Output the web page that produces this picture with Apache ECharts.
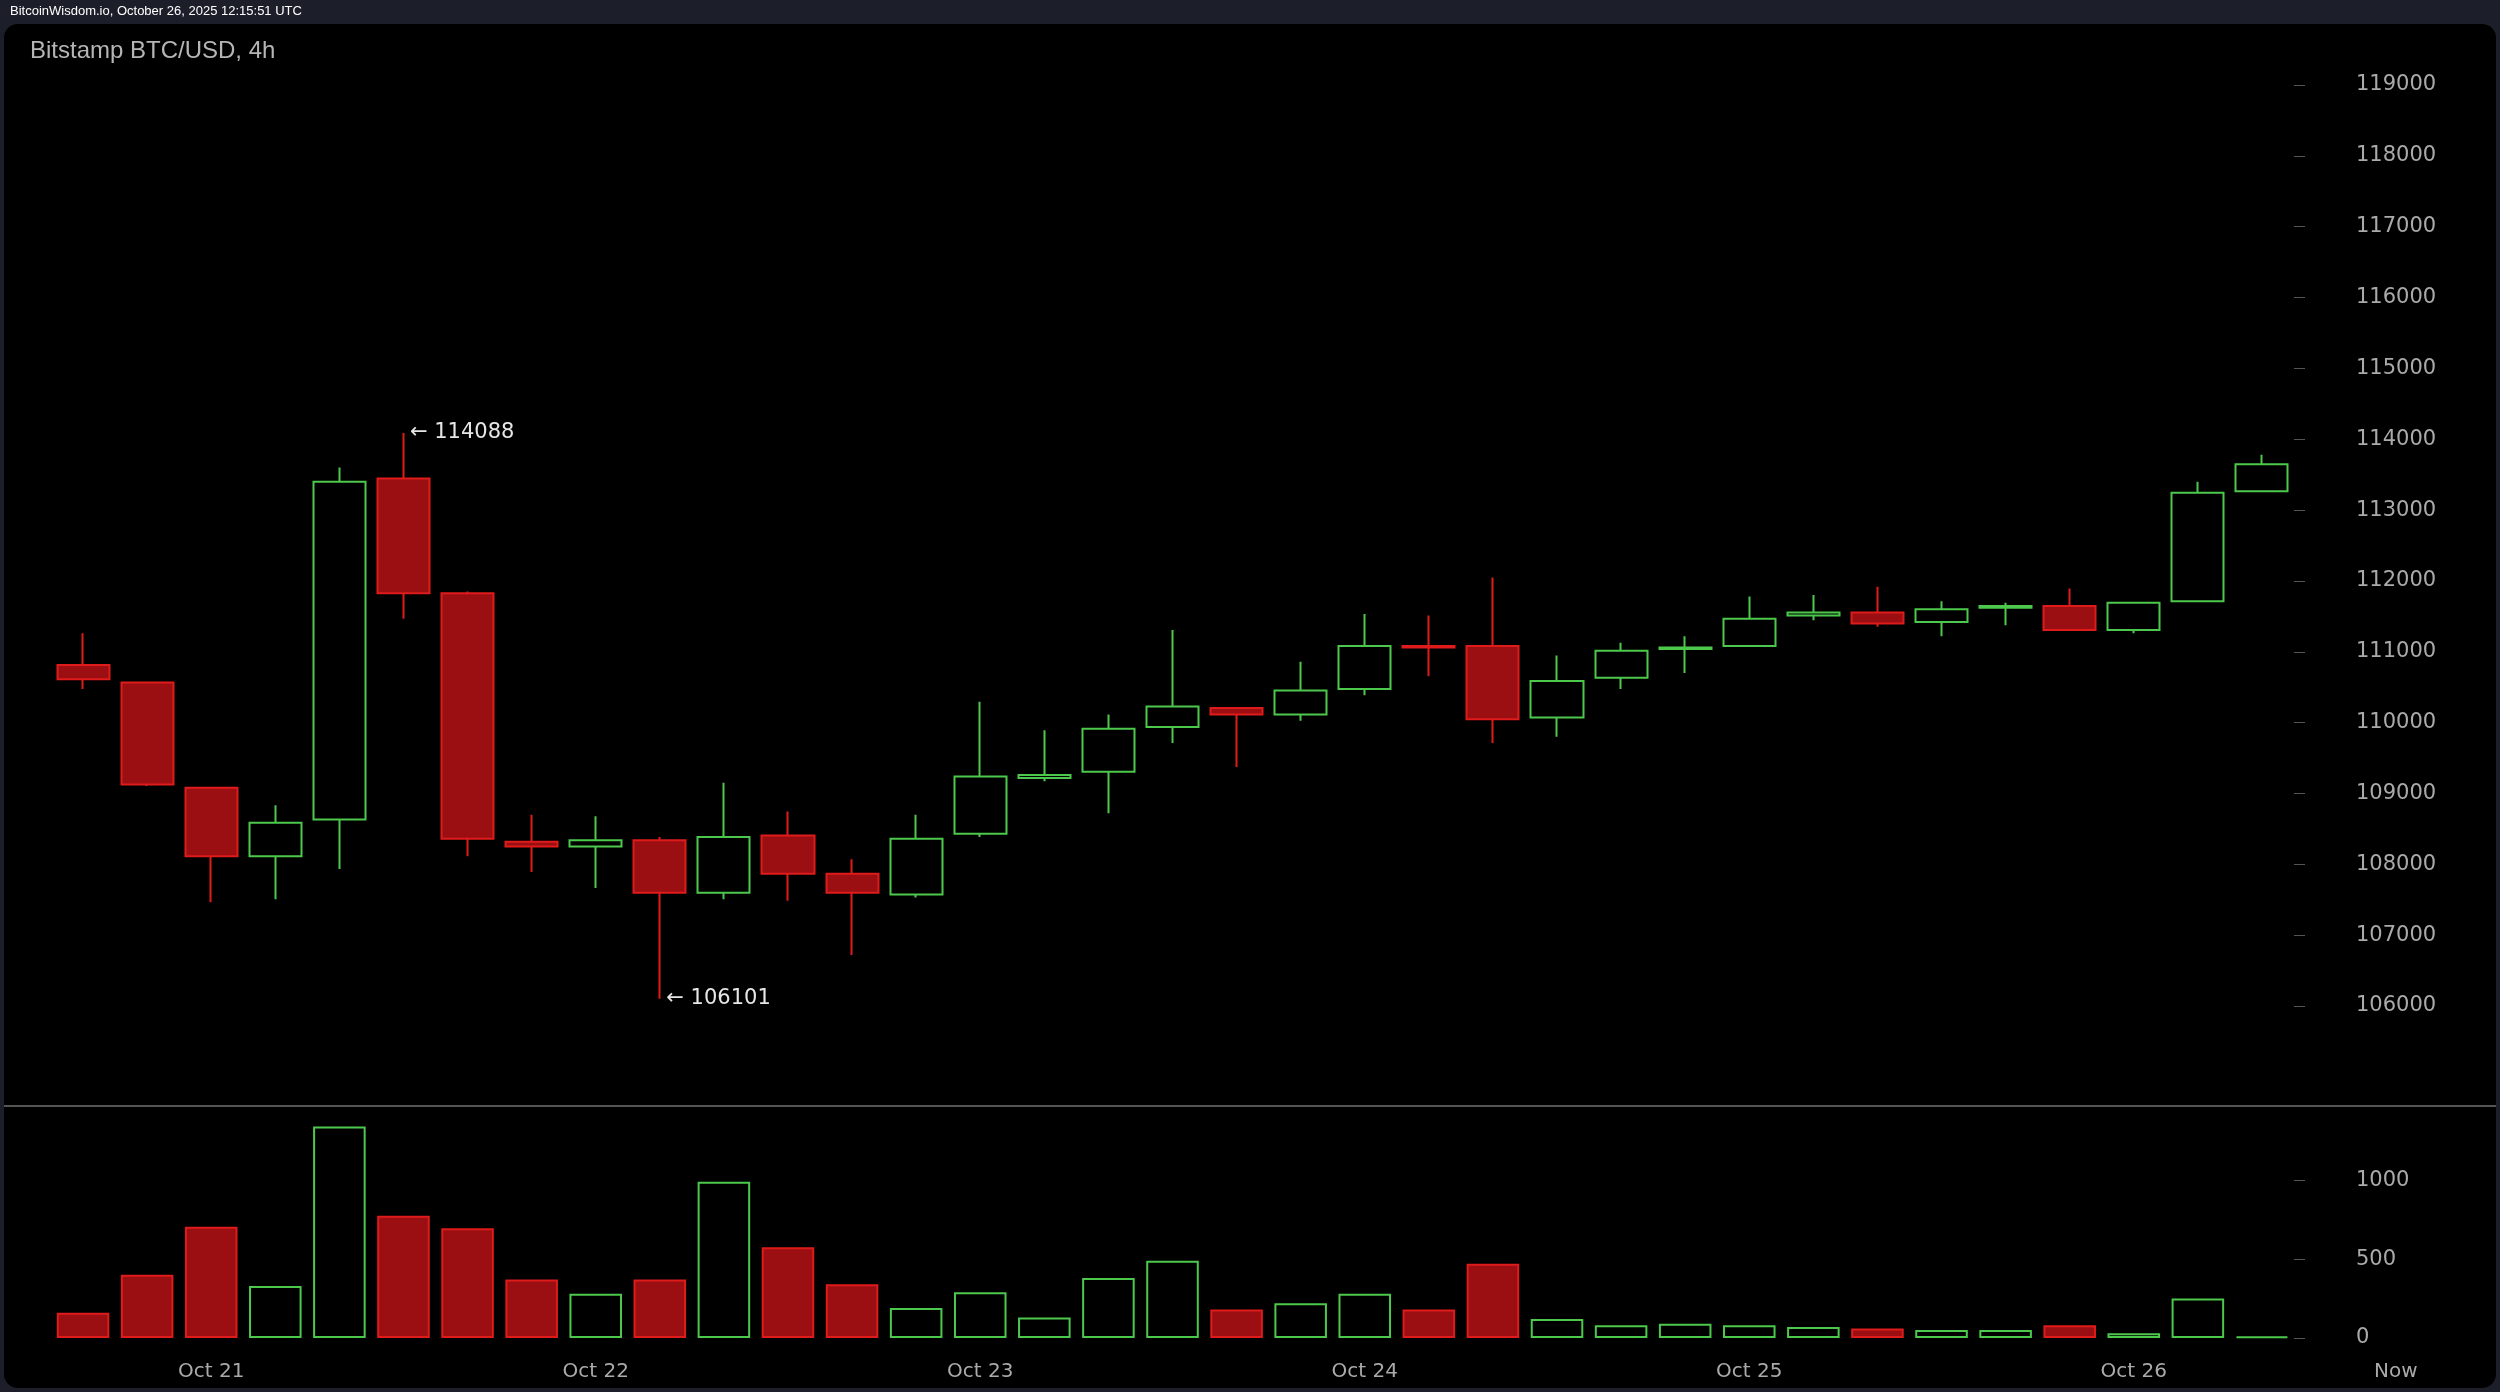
<!DOCTYPE html>
<html lang="en">
<head>
<meta charset="UTF-8">
<title>Bitstamp BTC/USD, 4h</title>
<script src="https://cdn.jsdelivr.net/npm/echarts@6/dist/echarts.min.js"></script>
<style>
    html, body {margin:0; padding:0; background:#1c1f2a}
    #main {width:2500px; height:1392px}
</style>
</head>
<body>
<div id="main"></div>
<script>
// 4h candles from Oct 20 16:00 to Oct 26 08:00
var days = ['', '', 'Oct 21', '', '', '', '', '', 'Oct 22', '', '', '', '', '', 'Oct 23', '', '', '', '', '',
    'Oct 24', '', '', '', '', '', 'Oct 25', '', '', '', '', '', 'Oct 26', '', ''];
// open, close, low, high
var ohlc = [
    [110813, 110611, 110476, 111263],
    [110566, 109127, 109105, 110566],
    [109082, 108115, 107463, 109082],
    [108115, 108587, 107508, 108835],
    [108632, 113400, 107935, 113602],
    [113445, 111826, 111466, 114088],
    [111826, 108362, 108115, 111849],
    [108317, 108250, 107890, 108700],
    [108250, 108340, 107665, 108677],
    [108340, 107598, 106101, 108385],
    [107598, 108385, 107508, 109150],
    [108407, 107868, 107485, 108745],
    [107868, 107598, 106720, 108070],
    [107575, 108362, 107530, 108700],
    [108430, 109240, 108385, 110296],
    [109218, 109262, 109172, 109892],
    [109307, 109915, 108722, 110116],
    [109937, 110229, 109712, 111308],
    [110206, 110116, 109375, 110220],
    [110116, 110454, 110026, 110858],
    [110476, 111083, 110386, 111533],
    [111083, 111060, 110656, 111511],
    [111083, 110049, 109712, 112050],
    [110071, 110589, 109802, 110948],
    [110633, 111016, 110476, 111128],
    [111038, 111060, 110701, 111218],
    [111083, 111466, 111083, 111781],
    [111511, 111556, 111444, 111803],
    [111556, 111398, 111353, 111916],
    [111421, 111601, 111218, 111713],
    [111623, 111646, 111376, 111691],
    [111646, 111308, 111308, 111893],
    [111308, 111691, 111263, 111691],
    [111713, 113243, 111713, 113400],
    [113265, 113647, 113265, 113782]
];
var volumes = [160, 400, 705, 330, 1340, 775, 695, 370, 280, 370, 990, 575, 340, 190, 290, 130, 380, 490, 180, 220,
    280, 180, 470, 120, 80, 90, 80, 70, 60, 50, 50, 80, 30, 250, 10];
var priceTicks = [106000, 107000, 108000, 109000, 110000, 111000, 112000, 113000, 114000, 115000, 116000, 117000, 118000, 119000];
var volTicks = [0, 500, 1000];

var UP = '#4cc94c', DOWN = '#e01b1b', DOWNFILL = '#9b0f12';

var volData = volumes.map(function (v, i) {
    var up = ohlc[i][1] >= ohlc[i][0];
    return {
        value: v,
        itemStyle: up ? {color: 'rgba(0,0,0,0)', borderColor: UP, borderWidth: 2}
                      : {color: DOWNFILL, borderColor: DOWN, borderWidth: 2}
    };
});

var plain = function (v) { return String(v); };

var chart = echarts.init(document.getElementById('main'));
chart.setOption({
    backgroundColor: '#1c1f2a',
    animation: false,
    graphic: [
        {type: 'rect', z: -10, shape: {x: 4, y: 24, width: 2492, height: 1364, r: 14}, style: {fill: '#000'}},
        {type: 'line', z: 5, shape: {x1: 4, y1: 1106, x2: 2496, y2: 1106}, style: {stroke: '#555', lineWidth: 2}},
        {type: 'text', left: 10, top: 5, style: {text: 'BitcoinWisdom.io, October 26, 2025 12:15:51 UTC', fill: '#fff', font: '13px Liberation Sans'}},
        {type: 'text', left: 30, top: 39, style: {text: 'Bitstamp BTC/USD, 4h', fill: '#b5b5b5', font: '24px Liberation Sans'}},
        {type: 'text', left: 2374, top: 1362, style: {text: 'Now', fill: '#aaa', font: '20px DejaVu Sans'}}
    ],
    grid: [
        {left: 51, right: 206, top: 85, height: 921},
        {left: 51, right: 206, top: 1117, height: 221}
    ],
    xAxis: [
        {type: 'category', gridIndex: 0, data: days, axisLine: {show: false}, axisTick: {show: false}, axisLabel: {show: false}},
        {type: 'category', gridIndex: 1, data: days, axisLine: {show: false}, axisTick: {show: false},
            axisLabel: {interval: 0, color: '#aaa', fontSize: 20, fontFamily: 'DejaVu Sans', margin: 24}}
    ],
    yAxis: [
        {type: 'value', gridIndex: 0, position: 'right', min: 106000, max: 119000, interval: 1000,
            splitLine: {show: false}, axisLine: {show: false},
            axisTick: {show: true, length: 11, lineStyle: {color: '#555'}},
            axisLabel: {color: '#aaa', fontSize: 21, fontFamily: 'DejaVu Sans', margin: 62,
                customValues: priceTicks, formatter: plain}},
        {type: 'value', gridIndex: 1, position: 'right', min: 0, max: 1400,
            splitLine: {show: false}, axisLine: {show: false},
            axisTick: {show: true, length: 11, lineStyle: {color: '#555'}, customValues: volTicks},
            axisLabel: {color: '#aaa', fontSize: 21, fontFamily: 'DejaVu Sans', margin: 62,
                customValues: volTicks, formatter: plain}}
    ],
    series: [
        {
            type: 'candlestick', xAxisIndex: 0, yAxisIndex: 0, data: ohlc, barWidth: '82%',
            itemStyle: {color: 'rgba(0,0,0,0)', borderColor: UP, color0: DOWNFILL, borderColor0: DOWN, borderWidth: 2},
            markPoint: {
                symbol: 'circle', symbolSize: 1, itemStyle: {color: 'rgba(0,0,0,0)'},
                label: {position: 'right', distance: 6, color: '#e6e6e6', fontSize: 21, fontFamily: 'DejaVu Sans',
                    formatter: function (p) { return '\u2190 ' + p.value; }},
                data: [
                    {coord: [5, 114088], value: 114088},
                    {coord: [9, 106101], value: 106101}
                ]
            }
        },
        {type: 'bar', xAxisIndex: 1, yAxisIndex: 1, data: volData, barWidth: '82%'}
    ]
});
</script>
</body>
</html>
